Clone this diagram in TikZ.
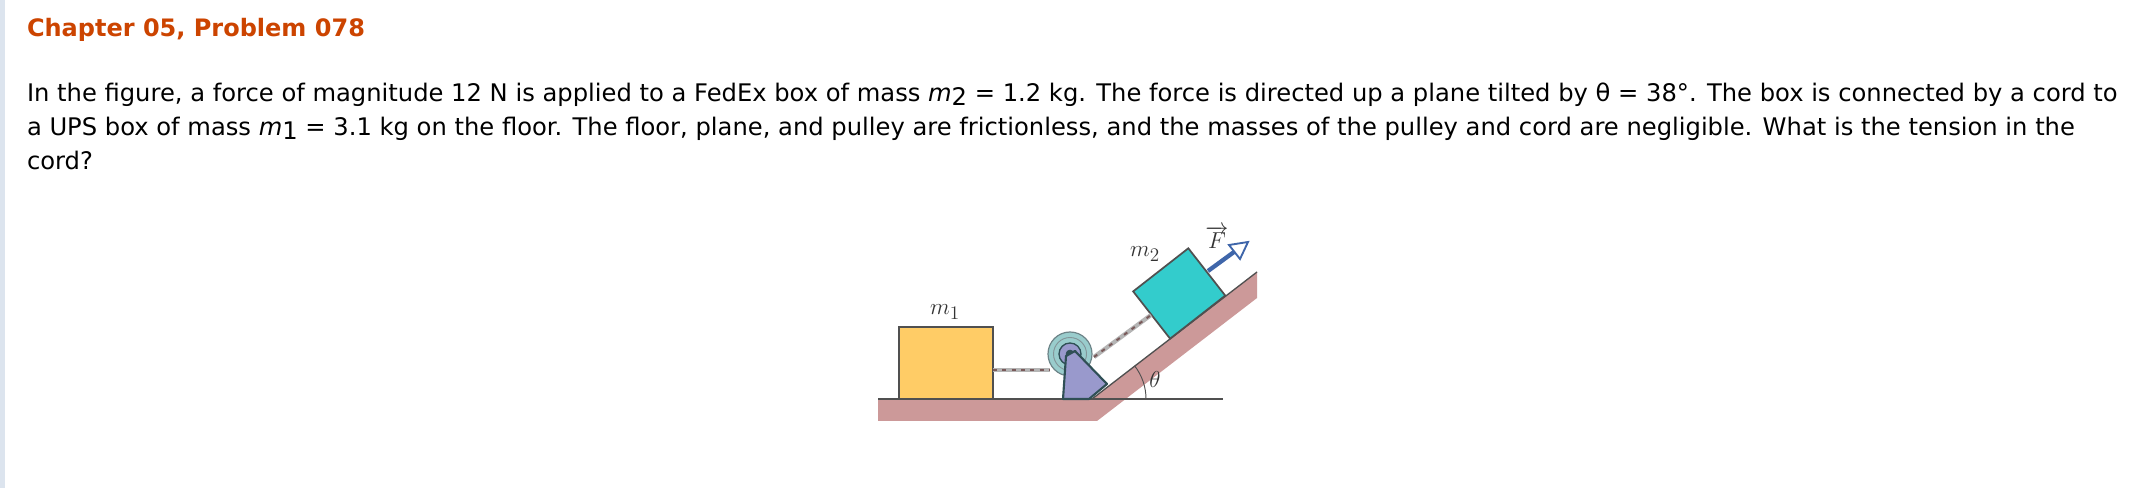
\documentclass[tikz,border=0pt]{standalone}
\usepackage{fontspec}
\setmainfont{DejaVu Sans}
\definecolor{titlec}{HTML}{CC4400}
\definecolor{stripe}{HTML}{DCE4EE}
\definecolor{ramp}{HTML}{CC9999}
\definecolor{boxa}{HTML}{FFCC66}
\definecolor{boxb}{HTML}{33CCCC}
\definecolor{brk}{HTML}{9999CC}
\definecolor{ring}{HTML}{99CCCC}
\definecolor{arrowb}{HTML}{3F66AA}
\definecolor{ink}{HTML}{505050}
\definecolor{darkteal}{HTML}{2F4F55}
\definecolor{ropea}{HTML}{B5B5B5}
\definecolor{ropeb}{HTML}{7A5A5A}
\newcommand{\bodyfont}{\fontsize{18.16pt}{20pt}\selectfont}
\newcommand{\mi}[1]{\textit{m}\raisebox{-0.3ex}{#1}}
\tikzset{
  textline/.style={anchor=base west,inner sep=0pt,outer sep=0pt,font=\bodyfont},
  solid box/.style={draw=ink,line width=1.3pt,inner sep=0pt,outer sep=0pt},
  rope base/.style={ropea,line width=3.2pt},
  rope mark/.style={ropeb,line width=1.5pt,dash pattern=on 3pt off 4pt},
  disc/.style={circle,inner sep=0pt,outer sep=0pt},
  figlabel/.style={inner sep=0pt,outer sep=0pt,text=black!80,font=\fontsize{19pt}{21pt}\selectfont}
}
\begin{document}
\begin{tikzpicture}[x=0.75pt,y=0.75pt]
\useasboundingbox (0,0) rectangle (2144,488);
\fill[white] (0,0) rectangle (2144,488);
\fill[stripe] (0,0) rectangle (5,488);
\node[textline,text=titlec,font=\fontsize{18pt}{20pt}\selectfont\bfseries] (title) at (27,451) {Chapter 05, Problem 078};
\node[textline] (line1) at (27,386) {In the figure, a force of magnitude 12 N is applied to a FedEx box of mass \mi{2} = 1.2 kg. The force is directed up a plane tilted by θ = 38°. The box is connected by a cord to};
\node[textline] (line2) at (27,352) {a UPS box of mass \mi{1} = 3.1 kg on the floor. The floor, plane, and pulley are frictionless, and the masses of the pulley and cord are negligible. What is the tension in the};
\node[textline] (line3) at (27,318) {cord?};

% ramp and floor
\fill[ramp] (878,89) -- (1092,89) -- (1257,216) -- (1257,190) -- (1097,67) -- (878,67) -- cycle;
\draw[ink,line width=1.1pt] (878,89) -- (1223,89);
\draw[ink,line width=1pt] (1092,89) -- (1257,216);

% angle arc
\coordinate (apex) at (1092,89);
\draw[ink,line width=0.7pt] (1146,89) arc[start angle=0,end angle=38,radius=54];

% boxes
\node[solid box,fill=boxa,minimum width=94*0.75pt,minimum height=72*0.75pt] (m1) at (946,125) {};
\node[solid box,fill=boxb,rotate=38,minimum width=70*0.75pt,minimum height=60*0.75pt] (m2) at (1179.2,194.5) {};

% pulley
\coordinate (pc) at (1070,134);
\node[disc,draw=darkteal!70,fill=ring,line width=0.9pt,minimum size=44*0.75pt] (pulley) at (pc) {};
\node[disc,draw=darkteal!60,line width=0.7pt,minimum size=33*0.75pt] (groove) at (pc) {};
\node[disc,draw=darkteal,fill=brk,line width=1pt,minimum size=22*0.75pt] (hub) at (pc) {};
\node[disc,draw=darkteal,fill=darkteal,minimum size=8*0.75pt] (axle) at (pc) {};

% bracket
\draw[darkteal,line width=1.6pt,fill=brk,line join=round] (1063,89) -- (1066,132) -- (1075,137) -- (1107,104) -- (1089,89) -- cycle;

% cords
\coordinate (c1) at (993,118);
\coordinate (c2) at (1050,118);
\coordinate (c3) at (1094,131);
\coordinate (c4) at (1151,173);
\draw[rope base] (c1) -- (c2);
\draw[rope mark] (c1) -- (c2);
\draw[rope base] (c3) -- (c4);
\draw[rope mark] (c3) -- (c4);

% force arrow
\coordinate (fa) at (1208,217);
\coordinate (fb) at (1234,236);
\draw[arrowb,line width=3.2pt] (fa) -- (fb);
\draw[arrowb,line width=1.4pt,fill=white,line join=miter] (1229,243) -- (1248,246) -- (1240,229) -- cycle;

% labels
\node[figlabel] (lm1) at (945,176) {$m_1$};
\node[figlabel] (lm2) at (1145,234) {$m_2$};
\node[figlabel] (lf) at (1217,251) {$\overrightarrow{F}$};
\node[figlabel] (lt) at (1155,108) {$\theta$};
\end{tikzpicture}
\end{document}
